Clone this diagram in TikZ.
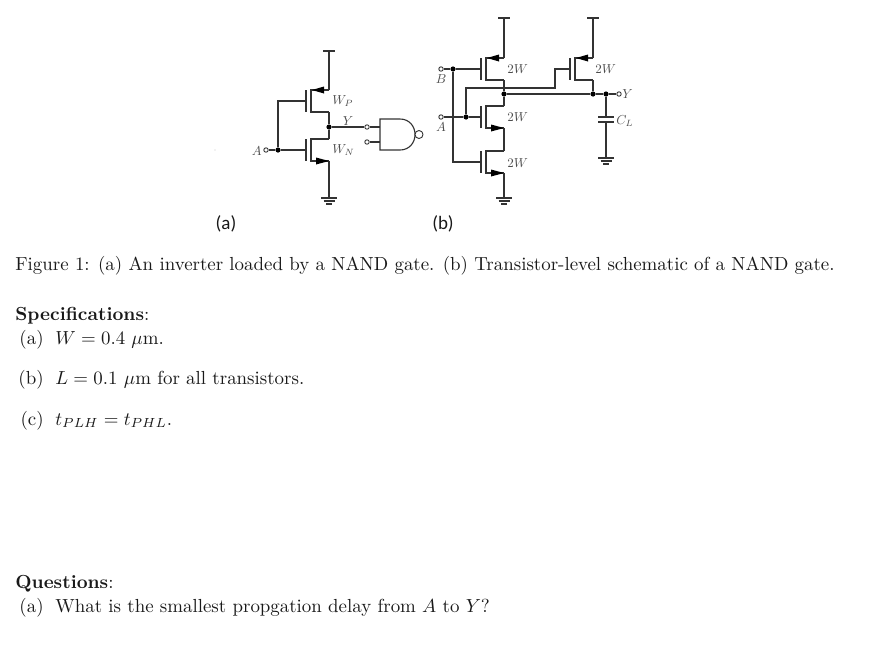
\documentclass[tikz,border=0pt]{standalone}
\usepackage[no-math]{fontspec}
\usepackage{tikz}
\newfontfamily\capfont{Carlito}

\tikzset{
  wire/.style = {line width=1.1pt, black!80},
  dot/.style = {circle, fill=black, inner sep=0pt, minimum size=5.2pt},
  term/.style = {circle, draw=black!80, fill=white, line width=0.9pt, inner sep=0pt, minimum size=4.4pt},
  lbl/.style = {inner sep=0pt, scale=1.3, black!70},
  body/.style = {inner sep=0pt, anchor=base west, scale=1.89, black!90},
  itm/.style = {body, anchor=base east},
  sub/.style = {inner sep=0pt, font=\capfont\fontsize{19}{21}\selectfont, black!90}
}

% #1 name, #2 x of the source/drain wire, #3 top of the channel
\newcommand{\fetbody}[3]{
  \coordinate (#1t) at (#2,#3);
  \coordinate (#1b) at (#2,#3+22);
  \coordinate (#1g) at (#2-23,#3+11);
  \draw[wire] (#1t) -- (#2-18,#3) -- (#2-18,#3+22) -- (#1b);
  \draw[wire, line width=1.2pt] (#2-23,#3) -- (#2-23,#3+22);
}
\newcommand{\pfet}[3]{
  \fetbody{#1}{#2}{#3}
  \fill[black] (#2-17,#3) -- (#2-5,#3-3.5) -- (#2-5,#3+3.5) -- cycle;
}
\newcommand{\nfet}[3]{
  \fetbody{#1}{#2}{#3}
  \fill[black] (#2,#3+22) -- (#2-13,#3+18.5) -- (#2-13,#3+25.5) -- cycle;
}
\newcommand{\vddbar}[2]{
  \coordinate (#1) at (#2,18);
  \draw[wire, line width=1.4pt] (#2-6,18) -- (#2+6,18);
}
\newcommand{\gnd}[3]{
  \coordinate (#1) at (#2,#3);
  \draw[wire] (#2-8,#3) -- (#2+8,#3);
  \draw[wire] (#2-5.5,#3+3) -- (#2+5.5,#3+3);
  \draw[wire] (#2-3,#3+6) -- (#2+3,#3+6);
}

\begin{document}
\begin{tikzpicture}[x=1pt, y=-1pt]
  \useasboundingbox (0,0) rectangle (890,670);

  % inverter (a)
  \coordinate (vddI) at (329,51);
  \draw[wire, line width=1.4pt] (323,51) -- (335,51);
  \pfet{mp}{329}{90}
  \nfet{mn}{329}{139}
  \gnd{gndI}{329}{198}
  \node[dot] (outI) at (329,127) {};
  \node[dot] (inI) at (278,150) {};
  \node[term] (termA) at (266,150) {};
  \node[term] (nandA) at (367,127) {};
  \node[term] (nandB) at (367,142) {};
  \coordinate (nandAin) at (380,127);
  \coordinate (nandBin) at (380,142);
  \draw[wire] (vddI) -- (mpt);
  \draw[wire] (mpb) -- (outI) -- (mnt);
  \draw[wire] (mnb) -- (gndI);
  \draw[wire] (termA) -- (inI) -- (mng);
  \draw[wire] (inI) |- (mpg);
  \draw[wire] (outI) -- (nandA);
  \draw[wire] (nandA) -- (nandAin);
  \draw[wire] (nandB) -- (nandBin);
  \draw[wire] (400,119) -- (380,119) -- (380,150) -- (400,150)
    .. controls (409,150) and (415,143) .. (415,134.5)
    .. controls (415,126) and (409,119) .. (400,119);
  \node[term, minimum size=8pt] (bubble) at (419,134.5) {};
  \fill[black!60] (215,150) circle (0.4pt);
  \node[lbl, anchor=east] (lblA) at (262,151) {$A$};
  \node[lbl, anchor=west] (lblWp) at (332,101) {$W_P$};
  \node[lbl, anchor=west] (lblWn) at (332,150) {$W_N$};
  \node[lbl] (lblY) at (348,121) {$Y$};

  % nand gate (b)
  \vddbar{vddL}{504}
  \vddbar{vddR}{593}
  \pfet{qa}{504}{58}
  \nfet{qb}{504}{106}
  \nfet{qc}{504}{151}
  \pfet{qd}{593}{58}
  \gnd{gndL}{504}{198}
  \gnd{gndC}{606}{158}
  \node[term] (termB) at (441,69) {};
  \node[term] (termAb) at (441,117) {};
  \node[term] (termY) at (619,94) {};
  \node[dot] (dotB) at (453,69) {};
  \node[dot] (dotA) at (466,117) {};
  \node[dot] (outL) at (504,94) {};
  \node[dot] (outR) at (593,94) {};
  \node[dot] (outC) at (606,94) {};
  \coordinate (capT) at (606,117);
  \coordinate (capB) at (606,122);
  \coordinate (bendA) at (555,88);
  \draw[wire] (vddL) -- (qat);
  \draw[wire] (qab) -- (outL) -- (qbt);
  \draw[wire] (qbb) -- (qct);
  \draw[wire] (qcb) -- (gndL);
  \draw[wire] (vddR) -- (qdt);
  \draw[wire] (qdb) -- (outR);
  \draw[wire] (outL) -- (outR) -- (outC) -- (termY);
  \draw[wire] (termB) -- (dotB) -- (qag);
  \draw[wire] (dotB) |- (qcg);
  \draw[wire] (termAb) -- (dotA) -- (qbg);
  \draw[wire] (dotA) |- (bendA) |- (qdg);
  \draw[wire] (outC) -- (capT);
  \draw[wire] (capB) -- (gndC);
  \draw[wire, line width=1.2pt] (598,117) -- (614,117);
  \draw[wire, line width=1.2pt] (598,122) -- (614,122);
  \node[lbl] (lblB) at (441,79) {$B$};
  \node[lbl] (lblAb) at (441,127) {$A$};
  \node[lbl, anchor=west] (lblYb) at (622,94) {$Y$};
  \node[lbl, anchor=west] (lblCl) at (616,121) {$C_L$};
  \node[lbl, anchor=west] (lblQa) at (507,69) {$2W$};
  \node[lbl, anchor=west] (lblQb) at (507,117) {$2W$};
  \node[lbl, anchor=west] (lblQc) at (507,163) {$2W$};
  \node[lbl, anchor=west] (lblQd) at (595,69) {$2W$};

  \node[sub] (capa) at (226,224) {(a)};
  \node[sub] (capb) at (443,224) {(b)};

  % text below
  \node[body] (figcap) at (15,270) {Figure 1: (a) An inverter loaded by a NAND gate. (b) Transistor-level schematic of a NAND gate.};
  \node[body] (spec) at (15,320) {\textbf{Specifications}:};
  \node[itm] (specAi) at (44,344) {(a)};
  \node[body] (specA) at (55,344) {$W=0.4\ \mu$m.};
  \node[itm] (specBi) at (44,384) {(b)};
  \node[body] (specB) at (55,384) {$L=0.1\ \mu$m for all transistors.};
  \node[itm] (specCi) at (44,425) {(c)};
  \node[body] (specC) at (55,425) {$t_{PLH}=t_{PHL}$.};
  \node[body] (ques) at (15,588) {\textbf{Questions}:};
  \node[itm] (quesAi) at (44,612) {(a)};
  \node[body] (quesA) at (55,612) {What is the smallest propgation delay from $A$ to $Y$?};
\end{tikzpicture}
\end{document}
